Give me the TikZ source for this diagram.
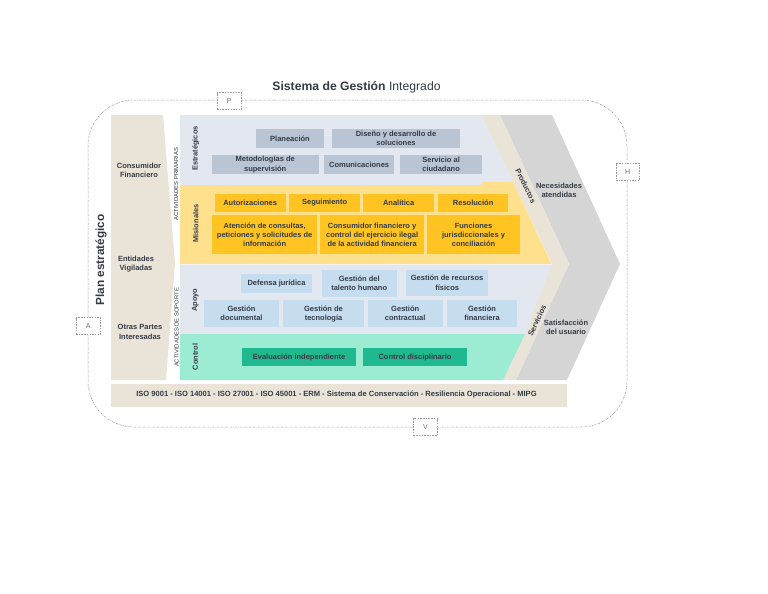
\documentclass[tikz,border=0pt]{standalone}
\usepackage{fontspec}
\setmainfont{Liberation Sans}
\definecolor{txt}{HTML}{343B45}
\definecolor{beigeC}{HTML}{EAE4D8}
\definecolor{greyC}{HTML}{D5D5D5}
\definecolor{strLight}{HTML}{E3E7EF}
\definecolor{strBox}{HTML}{B9C5D5}
\definecolor{yelLight}{HTML}{FFE08C}
\definecolor{yelBox}{HTML}{FFC421}
\definecolor{apoBox}{HTML}{C6DCEF}
\definecolor{teaLight}{HTML}{9CEBD3}
\definecolor{teaBox}{HTML}{20B98F}
\definecolor{frameC}{HTML}{9A9A9A}
\tikzset{
  lbl/.style={font=\bfseries\fontsize{7.5}{9.2}\selectfont,text=txt,align=center,inner sep=0pt},
  blockbox/.style={lbl,inner sep=0pt,outer sep=0pt},
  strb/.style={blockbox,fill=strBox},
  yelb/.style={blockbox,fill=yelBox},
  apob/.style={blockbox,fill=apoBox},
  teab/.style={blockbox,fill=teaBox},
  sidelbl/.style={lbl,rotate=90,font=\bfseries\fontsize{7.4}{9}\selectfont},
  tinylbl/.style={inner sep=0pt,rotate=90,text=txt,font=\fontsize{5.85}{6.5}\selectfont},
  pdcabox/.style={draw=frameC,line width=.5pt,dash pattern=on 1.5pt off 1.2pt,fill=white,text=frameC!70!black,
    font=\fontsize{7}{8}\selectfont,inner sep=0pt},
  framearc/.style={draw=frameC,line width=.5pt,dash pattern=on 2pt off 1pt on .6pt off 1pt},
}
\newcommand{\bx}[7]{%
  \pgfmathsetmacro{\bw}{#4-#2}\pgfmathsetmacro{\bh}{#5-#3}%
  \pgfmathsetmacro{\cxx}{(#4+#2)/2}\pgfmathsetmacro{\cyy}{(#5+#3)/2}%
  \node[#6,minimum width=\bw pt,minimum height=\bh pt] (#1) at (\cxx,\cyy) {#7};}
\begin{document}
\begin{tikzpicture}[x=1pt,y=-1pt]
\useasboundingbox (0,0) rectangle (768,594);
\fill[white] (0,0) rectangle (768,594);
% frame
\draw[framearc,rounded corners=46pt] (228,100) -- (627,100) -- (627,427) -- (88,427) -- (88,100) -- cycle;
% title
\node[inner sep=0pt,text=txt,font=\fontsize{12.2}{14}\selectfont] (title) at (356.5,87.5) {\textbf{Sistema de Gestión} Integrado};
% cycle boxes
\bx{P}{217}{92.5}{241.5}{109.5}{pdcabox}{P}
\bx{H}{616}{163.5}{639.5}{180.5}{pdcabox}{H}
\bx{A}{76}{317.5}{100.5}{334.5}{pdcabox}{A}
\bx{V}{413.5}{418.5}{437.5}{435.5}{pdcabox}{V}
% left column
\fill[beigeC] (111,115) -- (163,115) -- (175,263) -- (166,380) -- (111,380) -- cycle;
% chevrons
\fill[greyC] (500,115) -- (552,115) -- (620,264) -- (567,380) -- (516,380) -- (569,264) -- cycle;
\fill[beigeC] (481,115) -- (500,115) -- (569,264) -- (516,380) -- (503,380) -- (552,264) -- cycle;
% bands
\fill[strLight] (180,115) -- (481,115) -- (513.5,183) -- (481,183) -- (481,186) -- (180,186) -- cycle;
\fill[yelLight] (180,185) -- (481,185) -- (481,182) -- (513,182) -- (551.5,264) -- (180,264) -- cycle;
\fill[strLight] (180,264.5) -- (552,264.5) -- (525,334) -- (180,334) -- cycle;
\fill[teaLight] (180,334) -- (525,334) -- (503,380) -- (180,380) -- cycle;
% bottom strip
\bx{iso}{111}{384}{567}{407}{lbl,fill=beigeC}{}
\node[lbl,font=\bfseries\fontsize{7.55}{8}\selectfont] (isotext) at (336.5,395) {ISO 9001 - ISO 14001 - ISO 27001 - ISO 45001 - ERM - Sistema de Conservación - Resiliencia Operacional - MIPG};
% strategic
\bx{s1}{255.7}{129.3}{324.3}{147.7}{strb}{Planeación}
\bx{s2}{332}{129.3}{460}{147.7}{strb}{Diseño y desarrollo de\\soluciones}
\bx{s3}{211.7}{155.3}{318.7}{173.7}{strb}{Metodologías de\\supervisión}
\bx{s4}{324.3}{155.3}{394}{173.7}{strb}{Comunicaciones}
\bx{s5}{400}{155.3}{482.3}{173.7}{strb}{Servicio al\\ciudadano}
% missional
\bx{m1}{214.7}{193.7}{285.7}{212.3}{yelb}{Autorizaciones}
\bx{m2}{289.3}{193.7}{360}{212.3}{yelb}{Seguimiento}
\bx{m3}{363.3}{193.7}{434}{212.3}{yelb}{Analítica}
\bx{m4}{438}{193.7}{508.3}{212.3}{yelb}{Resolución}
\bx{m5}{212.3}{215.3}{317}{254}{yelb}{Atención de consultas,\\peticiones y solicitudes de\\información}
\bx{m6}{320}{215.3}{424.3}{254}{yelb}{Consumidor financiero y\\control del ejercicio ilegal\\de la actividad financiera}
\bx{m7}{427}{215.3}{520}{254}{yelb}{Funciones\\jurisdiccionales y\\conciliación}
% support
\bx{a1}{241}{274.3}{312}{292.7}{apob}{Defensa jurídica}
\bx{a2}{321.7}{269.7}{396.7}{297}{apob}{Gestión del\\talento humano}
\bx{a3}{406}{269.7}{488.3}{296}{apob}{Gestión de recursos\\físicos}
\bx{a4}{204}{300}{279}{327.3}{apob}{Gestión\\documental}
\bx{a5}{283}{300}{364}{327.3}{apob}{Gestión de\\tecnología}
\bx{a6}{367.7}{300}{442.7}{327.3}{apob}{Gestión\\contractual}
\bx{a7}{446.7}{300}{517.3}{327.3}{apob}{Gestión\\financiera}
% control
\bx{c1}{242}{348}{356.3}{366.3}{teab}{Evaluación independiente}
\bx{c2}{362.7}{348}{467.3}{366.3}{teab}{Control disciplinario}
% rotated labels
\node[inner sep=0pt,rotate=90,text=txt,font=\bfseries\fontsize{11.8}{13}\selectfont] (plan) at (101,260) {Plan estratégico};
\node[sidelbl] (estr) at (195.7,148.5) {Estratégicos};
\node[sidelbl] (mis) at (195.7,223.5) {Misionales};
\node[sidelbl] (apo) at (195.3,300) {Apoyo};
\node[sidelbl] (con) at (195.3,357) {Control};
\node[tinylbl] (prim) at (176,184) {ACTIVIDADES PRIMARIAS};
\node[tinylbl] (sop) at (176.7,327.5) {ACTIVIDADES DE SOPORTE};
% side labels
\node[lbl] (cf) at (139,170) {Consumidor\\Financiero};
\node[lbl] (ev) at (136,264) {Entidades\\Vigiladas};
\node[lbl] (op) at (140,332) {Otras Partes\\Interesadas};
\node[lbl] (na) at (559,190) {Necesidades\\atendidas};
\node[lbl] (su) at (566,327) {Satisfacción\\del usuario};
\node[lbl,rotate=-64] (prod) at (525.7,186) {Productos};
\node[lbl,rotate=65] (serv) at (537,320.7) {Servicios};
\end{tikzpicture}
\end{document}
